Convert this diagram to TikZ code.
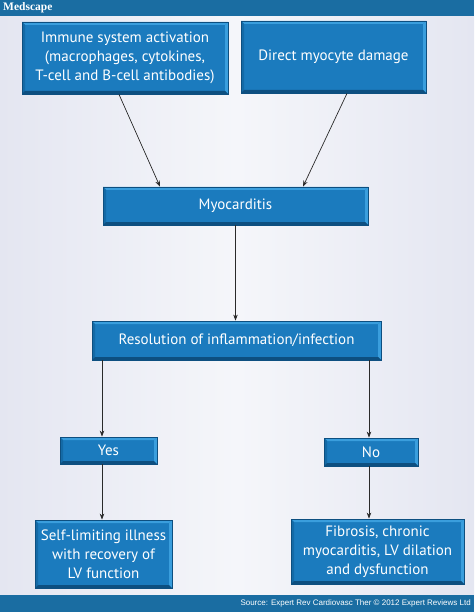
\documentclass[tikz,border=0pt]{standalone}
\usepackage{fontspec}
\setmainfont{PT Sans}
\newfontfamily\medfont{Liberation Serif}
\newfontfamily\srcfont{Liberation Sans}
\usetikzlibrary{arrows.meta}
\definecolor{boxblue}{HTML}{1B7BBE}
\definecolor{boxdark}{HTML}{0D4F80}
\definecolor{boxshade}{HTML}{146AA6}
\definecolor{boxlight}{HTML}{3A9EDD}
\definecolor{banner}{HTML}{1A6DA2}
\definecolor{bgside}{HTML}{E4E6F1}
\definecolor{bgmid}{HTML}{F5F6FA}
\definecolor{arrowcol}{HTML}{2A2A2A}
\begin{document}
\begin{tikzpicture}[x=1pt,y=-1pt,
  bbox/.style={rectangle, fill=boxblue, draw=boxdark, line width=0.8pt,
    text=white, align=center, inner sep=0pt,
    font=\fontsize{15}{19}\selectfont,
    path picture={
      \fill[boxlight] (path picture bounding box.north west) -- (path picture bounding box.north east)
        -- ([shift={(-3pt,-3pt)}]path picture bounding box.north east)
        -- ([shift={(3pt,-3pt)}]path picture bounding box.north west) -- cycle;
      \fill[boxshade] (path picture bounding box.north west) -- (path picture bounding box.south west)
        -- ([shift={(3pt,3pt)}]path picture bounding box.south west)
        -- ([shift={(3pt,-3pt)}]path picture bounding box.north west) -- cycle;
      \fill[boxlight] (path picture bounding box.north east) -- (path picture bounding box.south east)
        -- ([shift={(-3pt,3pt)}]path picture bounding box.south east)
        -- ([shift={(-3pt,-3pt)}]path picture bounding box.north east) -- cycle;
      \fill[boxdark] (path picture bounding box.south east) -- (path picture bounding box.south west)
        -- ([shift={(3pt,3pt)}]path picture bounding box.south west)
        -- ([shift={(-3pt,3pt)}]path picture bounding box.south east) -- cycle;
    }},
  arr/.style={draw=arrowcol, line width=0.7pt, -{Stealth[length=6pt,width=4.5pt]}}
]
\useasboundingbox (0,0) rectangle (474,612);
% background
\shade[left color=bgside, right color=bgside, middle color=bgmid] (0,0) rectangle (474,612);
% banners
\fill[banner] (0,0) rectangle (474,16);
\fill[banner] (0,595) rectangle (474,612);
\node[anchor=west, text=white, font=\medfont\bfseries\fontsize{11.5}{12}\selectfont, inner sep=0pt] (med) at (3,8) {Medscape};
\node[anchor=east, text=white, font=\srcfont\fontsize{8}{9}\selectfont, inner sep=0pt] (src) at (471,603.5) {Source: Expert Rev Cardiovasc Ther © 2012 Expert Reviews Ltd};

% boxes
\node[bbox, minimum width=206pt, minimum height=72pt] (imm) at (125,58)
  {Immune system activation\\(macrophages, cytokines,\\T-cell and B-cell antibodies)};
\node[bbox, minimum width=185pt, minimum height=72pt] (dir) at (333.5,57) {Direct myocyte damage};
\node[bbox, minimum width=265pt, minimum height=38pt] (myo) at (235.5,206) {Myocarditis};
\node[bbox, minimum width=289pt, minimum height=39pt] (res) at (236.5,340.5) {Resolution of inflammation/infection};
\node[bbox, minimum width=97pt, minimum height=27pt] (yes) at (108.5,450.5) {Yes};
\node[bbox, minimum width=94pt, minimum height=28pt] (no) at (371,452) {No};
\node[bbox, minimum width=137pt, minimum height=68pt] (self) at (103.5,554)
  {Self-limiting illness\\with recovery of\\LV function};
\node[bbox, minimum width=173pt, minimum height=65pt] (fib) at (377.5,551.5)
  {Fibrosis, chronic\\myocarditis, LV dilation\\and dysfunction};

% connectors
\coordinate (a1) at (119,96);
\coordinate (a2) at (347,95);
\draw[arr] (a1 |- imm.south) -- (160,0 |- myo.north);
\draw[arr] (a2 |- dir.south) -- (303,0 |- myo.north);
\draw[arr] (myo.south) -- (myo.south |- res.north);
\draw[arr] (102,0 |- res.south) -- (102,0 |- yes.north);
\draw[arr] (369,0 |- res.south) -- (369,0 |- no.north);
\draw[arr] (102,0 |- yes.south) -- (102,0 |- self.north);
\draw[arr] (369,0 |- no.south) -- (369,0 |- fib.north);
\end{tikzpicture}
\end{document}
